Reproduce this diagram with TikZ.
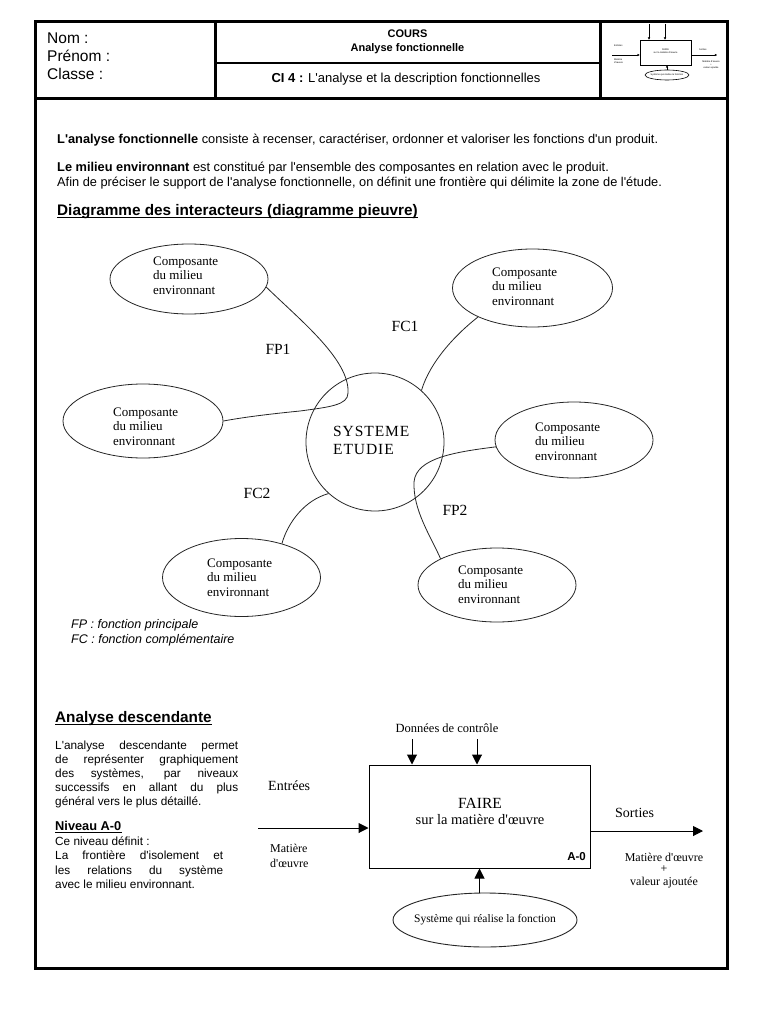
\documentclass[tikz,border=0pt]{standalone}
\usepackage{fontspec}
\setmainfont{Liberation Serif}
\newfontfamily\ar{Liberation Sans}
\newfontfamily\tm{Liberation Serif}
\newfontfamily\tmsp[LetterSpace=6]{Liberation Serif}
\usetikzlibrary{shapes.geometric,arrows.meta}
\begin{document}
\begin{tikzpicture}[x=1pt,y=-1pt,
  frame/.style={line width=3pt},
  hd/.style={font=\ar\fontsize{15.5}{17}\selectfont, anchor=base west, inner sep=0},
  body/.style={font=\ar\fontsize{12.8}{14}\selectfont, anchor=base west, inner sep=0},
  bodyl/.style={font=\ar\fontsize{11.8}{14}\selectfont, anchor=base west, inner sep=0},
  bodyb/.style={font=\ar\bfseries\fontsize{12.8}{14}\selectfont, anchor=base west, inner sep=0},
  head/.style={font=\ar\bfseries\fontsize{15.3}{17}\selectfont, anchor=base west, inner sep=0},
  legend/.style={font=\ar\itshape\fontsize{12.5}{14}\selectfont, anchor=base west, inner sep=0},
  uline/.style={line width=1.2pt},
  ell/.style={ellipse, draw=black!85, line width=0.8pt, inner sep=0},
  link/.style={draw=black!85, line width=0.8pt},
  ctext/.style={font=\tm\fontsize{13}{14}\selectfont, anchor=base west, inner sep=0},
  flabel/.style={font=\tm\fontsize{15.5}{17}\selectfont, inner sep=0},
  dtext/.style={font=\tm\fontsize{12}{14}\selectfont, inner sep=0},
  arr/.style={line width=1pt, -{Triangle[width=10pt,length=10pt]}},
  tarr/.style={line width=0.4pt, -{Triangle[width=2.2pt,length=2.2pt]}},
  tiny/.style={font=\ar\fontsize{2.4}{2.8}\selectfont, inner sep=0, align=center}
]
\fill[white] (0,0) rectangle (768,1024);
\useasboundingbox (0,0) rectangle (768,1024);

% ---------- frame and header ----------
\draw[frame] (35,22) rectangle (727,968);
\draw[frame] (35,99) -- (727,99);
\draw[frame] (215,22) -- (215,99);
\draw[frame] (600,22) -- (600,99);
\draw[line width=2pt] (215,63) -- (600,63);

\node[hd] (nom) at (47,43.5) {Nom :};
\node[hd] (prenom) at (47,61.5) {Prénom :};
\node[hd] (classe) at (47,79.5) {Classe :};

\node[font=\ar\bfseries\fontsize{11}{13}\selectfont, anchor=base, inner sep=0] (cours) at (407.5,38) {COURS};
\node[font=\ar\bfseries\fontsize{11}{13}\selectfont, anchor=base, inner sep=0] (af) at (407.5,52) {Analyse fonctionnelle};
\node[font=\ar\fontsize{13}{15}\selectfont, anchor=base, inner sep=0] (ci) at (406,82.5) {\textbf{CI 4 :} L'analyse et la description fonctionnelles};

% thumbnail of the A-0 diagram
\node[draw, line width=0.6pt, minimum width=51pt, minimum height=25pt, inner sep=0] (tbox) at (665.5,52.5) {};
\node[tiny] (tfaire) at (665.5,51) {FAIRE\\sur la matière d'œuvre};
\coordinate (tc1) at (649,24);
\coordinate (tc2) at (665,24);
\draw[tarr] (tc1) -- (tc1 |- tbox.north);
\draw[tarr] (tc2) -- (tc2 |- tbox.north);
\coordinate (tin) at (612,55);
\draw[tarr] (tin) -- (tin -| tbox.west);
\coordinate (tout) at (717,55);
\draw[tarr] (tout -| tbox.east) -- (tout);
\node[tiny, anchor=west] (tent) at (614,46) {Entrées};
\node[tiny, anchor=west, align=left] (tmat) at (614,61) {Matière\\d'œuvre};
\node[tiny, anchor=west] (tsor) at (699,50) {Sorties};
\node[tiny] (tmat2) at (711,65) {Matière d'œuvre\\+\\valeur ajoutée};
\node[ellipse, draw, line width=0.6pt, minimum width=44pt, minimum height=10pt, inner sep=0] (tsys) at (667,75) {};
\node[tiny] (tsyst) at (667,75) {Système qui réalise la fonction};
\draw[tarr] (tsys.north) -- (tsys.north |- tbox.south);

% ---------- introduction ----------
\node[body] (p1) at (57,143.5) {\textbf{L'analyse fonctionnelle} consiste à recenser, caractériser, ordonner et valoriser les fonctions d'un produit.};
\node[body] (p2) at (57,171.5) {\textbf{Le milieu environnant} est constitué par l'ensemble des composantes en relation avec le produit.};
\node[body] (p3) at (57,186.5) {Afin de préciser le support de l'analyse fonctionnelle, on définit une frontière qui délimite la zone de l'étude.};
\node[head] (h1) at (57,215) {Diagramme des interacteurs (diagramme pieuvre)};
\draw[uline] ([yshift=-2.5pt]h1.base west) -- ([yshift=-2.5pt]h1.base east);

% ---------- octopus diagram ----------
\node[ell, minimum width=158pt, minimum height=70pt] (e1) at (189,279) {};
\node[ell, minimum width=160pt, minimum height=74pt] (e2) at (143,421) {};
\node[ell, minimum width=160pt, minimum height=78pt] (e3) at (532.5,288) {};
\node[ell, minimum width=158pt, minimum height=76pt] (e4) at (574,440) {};
\node[ell, minimum width=158pt, minimum height=78pt] (e5) at (241.5,577.5) {};
\node[ell, minimum width=158pt, minimum height=74pt] (e6) at (497,585) {};
\node[circle, draw=black!85, line width=0.8pt, minimum size=138pt, inner sep=0] (c) at (375,442) {};

\foreach \n/\x/\y in {e1/153/265, e2/113/416, e3/492/276, e4/535/431, e5/207/567, e6/458/574}{
  \node[ctext] (\n-1) at (\x,\y) {Composante};
  \node[ctext] (\n-2) at (\x,\y+14.5) {du milieu};
  \node[ctext] (\n-3) at (\x,\y+29) {environnant};
}
\node[font=\tmsp\fontsize{15.5}{17}\selectfont, anchor=base west, inner sep=0] (sys1) at (333,436) {SYSTEME};
\node[font=\tmsp\fontsize{15.5}{17}\selectfont, anchor=base west, inner sep=0] (sys2) at (333,454) {ETUDIE};

% FP1 : e1 -> through system -> e2
\draw[link] (e1.-6) .. controls (300,320) and (350,360) .. (348,393)
  .. controls (348,405) and (330,407) .. (300,411)
  .. controls (270,414) and (245,417) .. (e2.east);
% FC1
\draw[link] (e3.-152) .. controls (455,335) and (430,362) .. (c.48);
% FP2 : e4 -> through system -> e6
\draw[link] (e4.185) .. controls (455,452) and (416,458) .. (414,482)
  .. controls (413,510) and (430,535) .. (e6.155);
% FC2
\draw[link] (e5.40) .. controls (288,522) and (305,500) .. (c.228);

\node[flabel] (fp1) at (278,349) {FP1};
\node[flabel] (fc1) at (405,326) {FC1};
\node[flabel] (fc2) at (257,493) {FC2};
\node[flabel] (fp2) at (455,510) {FP2};

\node[legend] (l1) at (71,628) {FP : fonction principale};
\node[legend] (l2) at (71,643) {FC : fonction complémentaire};

% ---------- analyse descendante ----------
\node[head] (h2) at (55,722) {Analyse descendante};
\draw[uline] ([yshift=-2.5pt]h2.base west) -- ([yshift=-2.5pt]h2.base east);

\node[bodyl] (d1) at (55,749) {\makebox[183pt][s]{L'analyse descendante permet}};
\node[bodyl] (d2) at (55,763) {\makebox[183pt][s]{de représenter graphiquement}};
\node[bodyl] (d3) at (55,777) {\makebox[183pt][s]{des systèmes, par niveaux}};
\node[bodyl] (d4) at (55,791) {\makebox[183pt][s]{successifs en allant du plus}};
\node[bodyl] (d5) at (55,805) {général vers le plus détaillé.};
\node[bodyb] (n0) at (55,830.5) {Niveau A-0};
\draw[line width=1pt] ([yshift=-2pt]n0.base west) -- ([yshift=-2pt]n0.base east);
\node[bodyl] (n1) at (55,845) {Ce niveau définit :};
\node[bodyl] (n2) at (55,859.5) {\makebox[168pt][s]{La frontière d'isolement et}};
\node[bodyl] (n3) at (55,874) {\makebox[168pt][s]{les relations du système}};
\node[bodyl] (n4) at (55,888.5) {avec le milieu environnant.};

% A-0 box
\node[draw, line width=1pt, minimum width=221pt, minimum height=103pt, inner sep=0] (box) at (479.5,816.5) {};
\node[font=\tm\fontsize{15.5}{17}\selectfont, inner sep=0] (faire) at (480,803) {FAIRE};
\node[font=\tm\fontsize{14.5}{17}\selectfont, inner sep=0] (surla) at (480,820) {sur la matière d'œuvre};
\node[font=\ar\bfseries\fontsize{11.5}{13}\selectfont, anchor=base east, inner sep=0] (a0) at (586,860) {A-0};

\node[font=\tm\fontsize{12.5}{14}\selectfont, inner sep=0] (donnees) at (447,728) {Données de contrôle};
\coordinate (ct1) at (412,739);
\coordinate (ct2) at (477,739);
\draw[arr] (ct1) -- (ct1 |- box.north);
\draw[arr] (ct2) -- (ct2 |- box.north);

\node[font=\tm\fontsize{14}{16}\selectfont, anchor=west, inner sep=0] (entrees) at (268,786) {Entrées};
\coordinate (in0) at (258,828);
\draw[arr] (in0) -- (in0 -| box.west);
\node[dtext, anchor=west] (mat1) at (270,848) {Matière};
\node[dtext, anchor=west] (mat2) at (270,863) {d'œuvre};

\node[font=\tm\fontsize{14}{16}\selectfont, anchor=west, inner sep=0] (sorties) at (615,813) {Sorties};
\coordinate (out0) at (703,831);
\draw[arr] (out0 -| box.east) -- (out0);
\node[dtext] (mo1) at (664,857) {Matière d'œuvre};
\node[dtext] (mo2) at (664,869) {+};
\node[dtext] (mo3) at (664,883) {valeur ajoutée};

\node[ellipse, draw=black!85, line width=0.9pt, minimum width=184pt, minimum height=54pt, inner sep=0] (sysf) at (485,920) {};
\node[font=\tm\fontsize{11.5}{13}\selectfont, inner sep=0] (sysft) at (485,920) {Système qui réalise la fonction};
\draw[arr] (sysf.north -| box.south) -- (box.south);
\end{tikzpicture}
\end{document}
